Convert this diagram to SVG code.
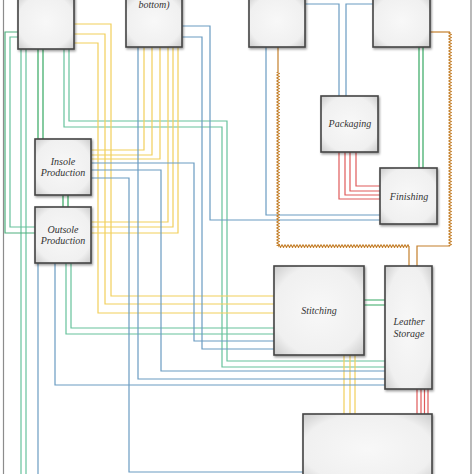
<svg xmlns="http://www.w3.org/2000/svg" width="474" height="474" viewBox="0 0 474 474">
<defs>
<radialGradient id="nodeFill" cx="0.5" cy="0.5" r="0.72">
<stop offset="0" stop-color="#f8f8f8"/>
<stop offset="0.7" stop-color="#f0f0f0"/>
<stop offset="1" stop-color="#c8c8c8"/>
</radialGradient>
<filter id="shadow" x="-20%" y="-20%" width="140%" height="140%">
<feDropShadow dx="1" dy="1.5" stdDeviation="1.2" flood-color="#000" flood-opacity="0.4"/>
</filter>
<pattern id="zzV" width="4" height="3" patternUnits="userSpaceOnUse">
<path d="M0.5,0 L3.5,1.5 L0.5,3" fill="none" stroke="#c47f2a" stroke-width="1.1"/>
</pattern>
<pattern id="zzH" width="3" height="4" patternUnits="userSpaceOnUse">
<path d="M0,0.5 L1.5,3.5 L3,0.5" fill="none" stroke="#c47f2a" stroke-width="1.1"/>
</pattern>
<style>
.node rect{fill:url(#nodeFill);stroke:#444;stroke-width:1.6;filter:url(#shadow)}
.lbl{font-family:"Liberation Serif","DejaVu Serif",serif;font-style:italic;font-size:10px;fill:#333;text-anchor:middle}
.c path{fill:none;stroke-width:1.2}
.teal{stroke:#66c29c}
.grn{stroke:#35a862;stroke-width:1.7}
.ylw{stroke:#f2cf5b}
.blu{stroke:#6a9cc2}
.red{stroke:#e05a5a}
.org{stroke:#c47f2a}
.frame{stroke:#8c8c8c;stroke-width:1.5}
</style>
</defs>
<rect width="474" height="474" fill="#fff"/>
<g id="frame" class="c">
<path class="frame" d="M3.5,0 V474 M471,0 V474"/>
</g>
<g id="connectors" class="c">
<path class="teal" d="M21,49 V474"/>
<path class="teal" d="M26,49 V474"/>
<path class="teal" d="M69,49 V121 H227 V361 H385"/>
<path class="teal" d="M64,49 V127 H222 V367 H385"/>
<path class="teal" d="M71,263 V328 H274"/>
<path class="teal" d="M66,263 V334 H274"/>
<path class="teal" d="M18,37 H10 V227 H35"/>
<path class="teal" style="stroke:#4fb07e" d="M18,32 H5 V233 H35"/>
<path class="grn" d="M38,49 V139 M43,49 V139"/>
<path class="grn" d="M63,195 V207 M68,195 V207"/>
<path class="grn" d="M419,47 V168 M423,47 V168"/>
<path class="grn" d="M364,300 H385 M364,305 H385"/>
<path class="ylw" d="M74,24 H111 V296 H274"/>
<path class="ylw" d="M74,34 H105 V304 H274"/>
<path class="ylw" d="M74,43 H98 V313 H274"/>
<path class="ylw" d="M144,47 V150 H91"/>
<path class="ylw" d="M152,47 V155 H91"/>
<path class="ylw" d="M160,47 V159 H91"/>
<path class="ylw" d="M168,47 V222 H91"/>
<path class="ylw" d="M173,47 V227 H91"/>
<path class="ylw" d="M178,47 V233 H91"/>
<path class="ylw" d="M344,355 V414 M350,355 V414 M355,355 V414"/>
<path class="blu" d="M138,47 V379 H385"/>
<path class="blu" d="M182,26 H210 V220 H380"/>
<path class="blu" d="M182,37 H202 V349 H274"/>
<path class="blu" d="M91,163 H194 V341 H274"/>
<path class="blu" d="M91,170 H161 V371 H385"/>
<path class="blu" d="M91,178 H129 V472 H303"/>
<path class="blu" d="M55,263 V385 H385"/>
<path class="blu" d="M38,263 V474"/>
<path class="blu" d="M266,47 V215 H380"/>
<path class="blu" d="M305,4 H339 V96"/>
<path class="blu" d="M373,4 H346 V96"/>
<path class="red" d="M356,152 V186 H380"/>
<path class="red" d="M350,152 V191 H380"/>
<path class="red" d="M345,152 V195 H380"/>
<path class="red" d="M339,152 V199 H380"/>
<path class="red" d="M417,389 V414 M421,389 V414 M424.5,389 V414 M428,389 V414"/>
<path class="org" d="M278,47 V72"/>
<rect x="276" y="72" width="4" height="174" fill="url(#zzV)"/>
<rect x="278" y="244" width="131" height="4" fill="url(#zzH)"/>
<path class="org" d="M409,246 V266"/>
<path class="org" d="M430,32 H450"/>
<rect x="448" y="32" width="4" height="214" fill="url(#zzV)"/>
<path class="org" d="M450,246 H417 V266"/>
</g>
<g id="nodeA" class="node"><rect x="18" y="-5" width="56" height="54"/></g>
<g id="nodeB" class="node"><rect x="126" y="-5" width="56" height="52"/><text class="lbl" x="154" y="8">bottom)</text></g>
<g id="nodeC" class="node"><rect x="249" y="-5" width="56" height="52"/></g>
<g id="nodeD" class="node"><rect x="373" y="-5" width="57" height="52"/></g>
<g id="packaging" class="node"><rect x="321" y="96" width="57" height="56"/><text class="lbl" x="350" y="127">Packaging</text></g>
<g id="finishing" class="node"><rect x="380" y="168" width="57" height="56"/><text class="lbl" x="409" y="200">Finishing</text></g>
<g id="insole" class="node"><rect x="35" y="139" width="56" height="56"/><text class="lbl" x="63" y="165">Insole</text><text class="lbl" x="63" y="176">Production</text></g>
<g id="outsole" class="node"><rect x="35" y="207" width="56" height="56"/><text class="lbl" x="63" y="233">Outsole</text><text class="lbl" x="63" y="244">Production</text></g>
<g id="stitching" class="node"><rect x="274" y="266" width="90" height="89"/><text class="lbl" x="319" y="314">Stitching</text></g>
<g id="leather" class="node"><rect x="385" y="266" width="47" height="123"/><text class="lbl" x="409" y="325">Leather</text><text class="lbl" x="409" y="337">Storage</text></g>
<g id="bottomNode" class="node"><rect x="303" y="414" width="129" height="70"/></g>
</svg>
